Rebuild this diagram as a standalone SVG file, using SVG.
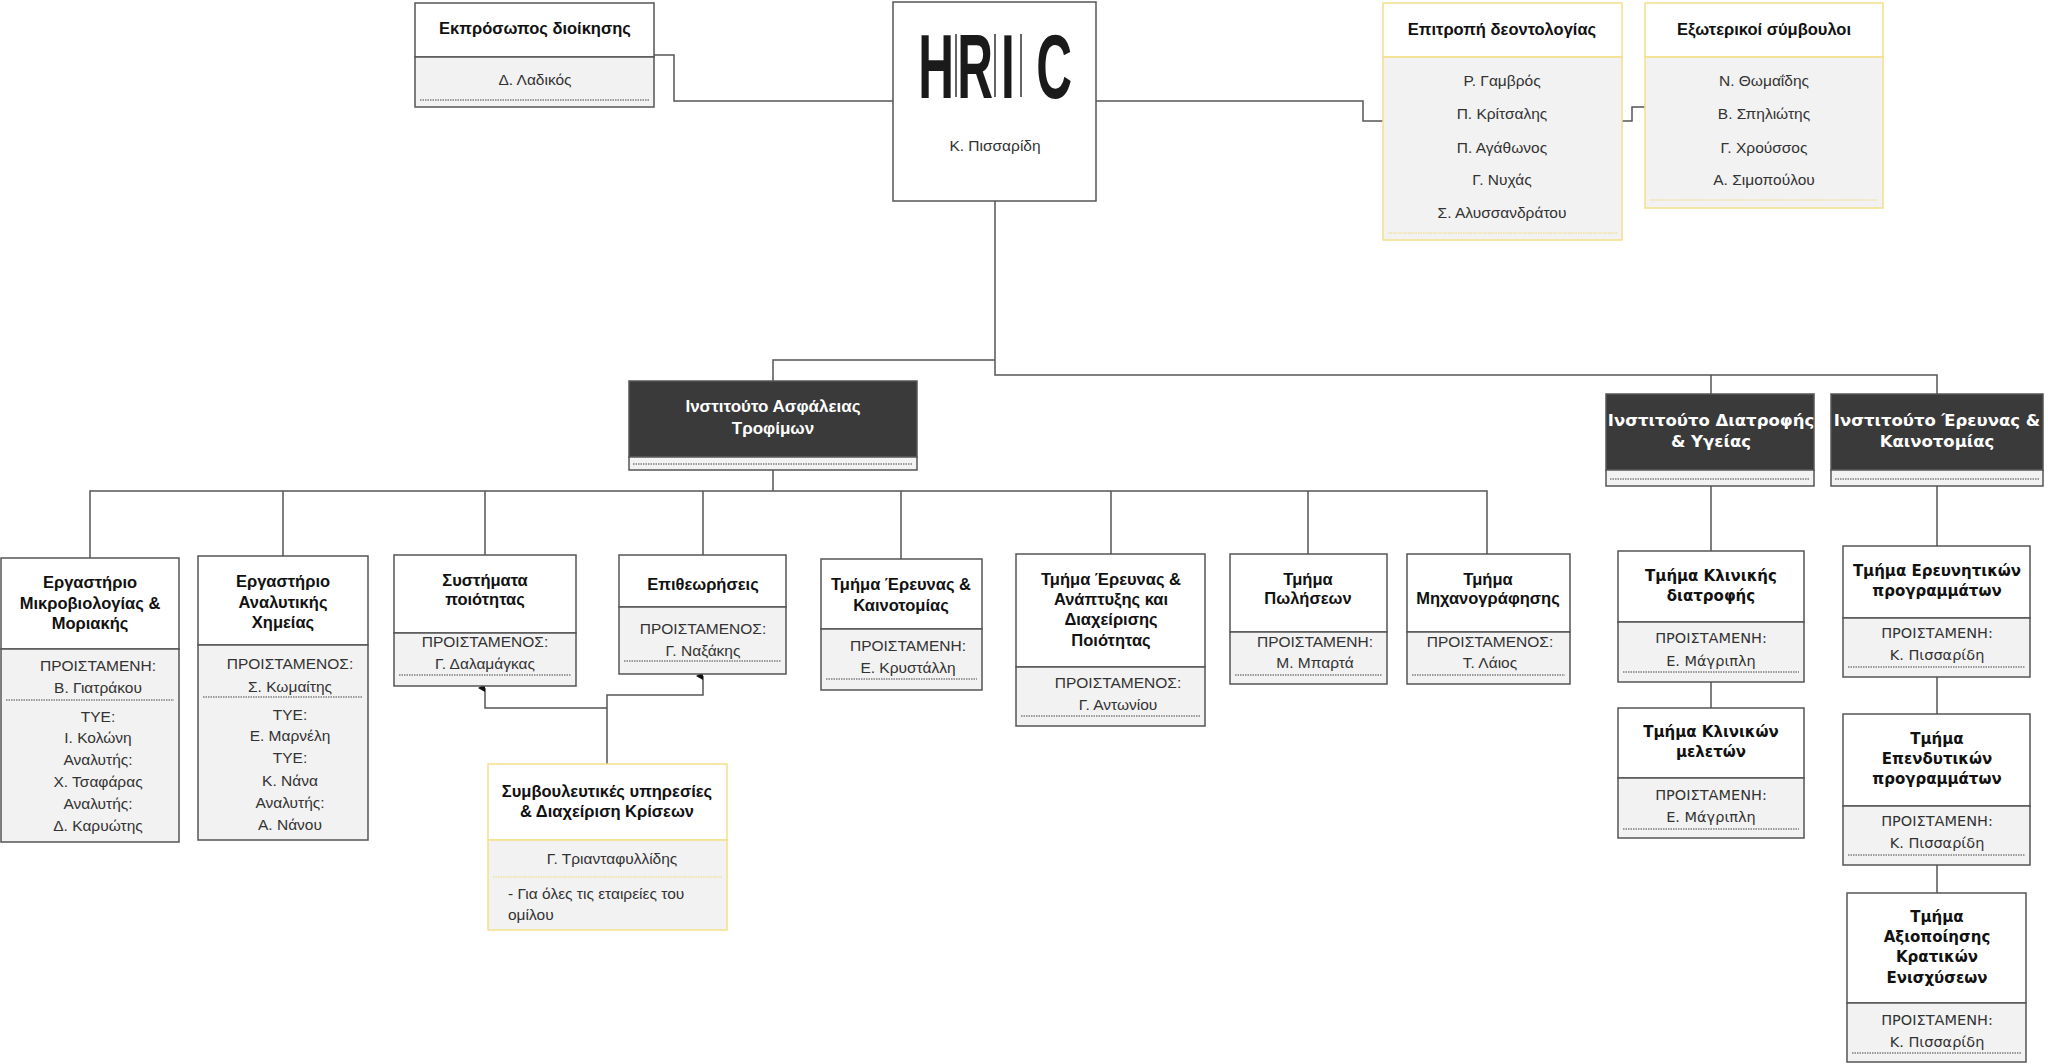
<svg xmlns="http://www.w3.org/2000/svg" width="2048" height="1064" viewBox="0 0 2048 1064">
<style>
.b{fill:#fff;stroke:#555;stroke-width:1.5}
.y{fill:#fff;stroke:#f3e08a;stroke-width:1.5}
.g{fill:#f2f2f2;stroke:#555;stroke-width:1.5}
.gy{fill:#f2f2f2;stroke:#f3e08a;stroke-width:1.5}
.dk{fill:#3a3a3a;stroke:#555;stroke-width:1.5}
.d{stroke:#444;stroke-width:1.2;stroke-dasharray:1.5 1}
.dy{stroke:#f0d870;stroke-width:1.2;stroke-dasharray:1.5 1}
.t{font-family:"Liberation Sans",Arial,sans-serif;font-weight:bold;font-size:16.5px;fill:#111;text-anchor:middle}
.w{font-family:"Liberation Sans",Arial,sans-serif;font-weight:bold;font-size:17px;fill:#fff;text-anchor:middle}
.s{font-family:"Liberation Sans",Arial,sans-serif;font-size:15.5px;fill:#333;text-anchor:middle}
.tv{font-family:"DejaVu Sans",Verdana,sans-serif;font-weight:bold;font-size:15px;fill:#111;text-anchor:middle}
.wv{font-family:"DejaVu Sans",Verdana,sans-serif;font-weight:bold;font-size:16.5px;fill:#fff;text-anchor:middle}
.sv{font-family:"DejaVu Sans",Verdana,sans-serif;font-size:14.5px;fill:#333;text-anchor:middle}
.c{fill:none;stroke:#555;stroke-width:1.5}
.L{font-family:"Liberation Sans",Arial,sans-serif;font-weight:bold;font-size:90px;fill:#1a1a1a;text-anchor:middle}
</style>
<defs><marker id="ar" markerWidth="8" markerHeight="8" refX="4" refY="7" orient="auto-start-reverse" markerUnits="userSpaceOnUse"><path d="M0,7 L4,0 L8,7 Z" fill="#111"/></marker></defs>
<rect width="2048" height="1064" fill="#fff"/>
<g id="connectors">
<path class="c" d="M654,55 H674 V101 H893"/>
<path class="c" d="M1096,101 H1363 V121 H1383"/>
<path class="c" d="M1622,121 H1632 V107 H1645"/>
<path class="c" d="M995,201 V375 H1937 V394 M1711,375 V394 M995,360 H773 V381"/>
<path class="c" d="M773,470 V491 M90,558 V491 H1487 V554 M283,491 V556 M485,491 V555 M703,491 V555 M901,491 V559 M1111,491 V554 M1308,491 V554"/>
<path class="c" d="M607,764 V695 H703 V676" marker-end="url(#ar)"/>
<path class="c" d="M607,708 H485 V688" marker-end="url(#ar)"/>
<path class="c" d="M1711,486 V551 M1711,682 V708 M1937,486 V546 M1937,677 V714 M1937,865 V893"/>
</g>
<g id="rep"><rect class="b" x="415" y="3" width="239" height="54"/><rect class="g" x="415" y="57" width="239" height="50"/><line class="d" x1="420" y1="100" x2="649" y2="100"/><text class="t" x="535" y="34">Εκπρόσωπος διοίκησης</text><text class="s" x="535" y="85">Δ. Λαδικός</text></g>
<g id="hric"><rect class="b" x="893" y="2" width="203" height="199"/>
<text class="L" transform="translate(936,98) scale(0.55,1)">H</text><text class="L" transform="translate(975,98) scale(0.55,1)">R</text><text class="L" transform="translate(1008,98) scale(0.55,1)">I</text><text class="L" transform="translate(1054,98) scale(0.55,1)">C</text>
<path d="M956,34 V97 M995,34 V97 M1021,34 V97" stroke="#333" stroke-width="1.5"/>
<text class="s" x="995" y="151">Κ. Πισσαρίδη</text></g>
<g id="ethics"><rect class="y" x="1383" y="3" width="239" height="54"/><rect class="gy" x="1383" y="57" width="239" height="183"/><line class="dy" x1="1388" y1="233" x2="1617" y2="233"/><text class="t" x="1502" y="35">Επιτροπή δεοντολογίας</text>
<text class="s" x="1502" y="86">Ρ. Γαμβρός</text><text class="s" x="1502" y="119">Π. Κρίτσαλης</text><text class="s" x="1502" y="153">Π. Αγάθωνος</text><text class="s" x="1502" y="185">Γ. Νυχάς</text><text class="s" x="1502" y="218">Σ. Αλυσσανδράτου</text></g>
<g id="external"><rect class="y" x="1645" y="3" width="238" height="54"/><rect class="gy" x="1645" y="57" width="238" height="151"/><line class="dy" x1="1650" y1="200" x2="1878" y2="200"/><text class="t" x="1764" y="35">Εξωτερικοί σύμβουλοι</text>
<text class="s" x="1764" y="86">Ν. Θωμαΐδης</text><text class="s" x="1764" y="119">Β. Σπηλιώτης</text><text class="s" x="1764" y="153">Γ. Χρούσσος</text><text class="s" x="1764" y="185">Α. Σιμοπούλου</text></g>
<g id="food"><rect class="dk" x="629" y="381" width="288" height="76"/><rect class="g" x="629" y="457" width="288" height="13"/><line class="d" x1="633" y1="464" x2="913" y2="464"/><text class="w" x="773" y="412">Ινστιτούτο Ασφάλειας</text><text class="w" x="773" y="434">Τροφίμων</text></g>
<g id="micro"><rect class="b" x="1" y="558" width="178" height="91"/><rect class="g" x="1" y="649" width="178" height="193"/><line class="d" x1="6" y1="700" x2="174" y2="700"/>
<text class="t" x="90" y="588">Εργαστήριο</text><text class="t" x="90" y="609">Μικροβιολογίας &amp;</text><text class="t" x="90" y="629">Μοριακής</text>
<text class="s" x="98" y="671">ΠΡΟΙΣΤΑΜΕΝΗ:</text><text class="s" x="98" y="693">Β. Γιατράκου</text><text class="s" x="98" y="722">ΤΥΕ:</text><text class="s" x="98" y="743">Ι. Κολώνη</text><text class="s" x="98" y="765">Αναλυτής:</text><text class="s" x="98" y="787">Χ. Τσαφάρας</text><text class="s" x="98" y="809">Αναλυτής:</text><text class="s" x="98" y="831">Δ. Καρυώτης</text></g>
<g id="chem"><rect class="b" x="198" y="556" width="170" height="89"/><rect class="g" x="198" y="645" width="170" height="195"/><line class="d" x1="203" y1="697" x2="363" y2="697"/>
<text class="t" x="283" y="587">Εργαστήριο</text><text class="t" x="283" y="608">Αναλυτικής</text><text class="t" x="283" y="628">Χημείας</text>
<text class="s" x="290" y="669">ΠΡΟΙΣΤΑΜΕΝΟΣ:</text><text class="s" x="290" y="692">Σ. Κωμαίτης</text><text class="s" x="290" y="720">ΤΥΕ:</text><text class="s" x="290" y="741">Ε. Μαρνέλη</text><text class="s" x="290" y="763">ΤΥΕ:</text><text class="s" x="290" y="786">Κ. Νάνα</text><text class="s" x="290" y="808">Αναλυτής:</text><text class="s" x="290" y="830">Α. Νάνου</text></g>
<g id="quality"><rect class="b" x="394" y="555" width="182" height="78"/><rect class="g" x="394" y="633" width="182" height="53"/><line class="d" x1="399" y1="675" x2="571" y2="675"/>
<text class="t" x="485" y="586">Συστήματα</text><text class="t" x="485" y="605">ποιότητας</text><text class="s" x="485" y="647">ΠΡΟΙΣΤΑΜΕΝΟΣ:</text><text class="s" x="485" y="669">Γ. Δαλαμάγκας</text></g>
<g id="inspect"><rect class="b" x="619" y="555" width="167" height="52"/><rect class="g" x="619" y="607" width="167" height="67"/><line class="d" x1="624" y1="661" x2="781" y2="661"/>
<text class="t" x="703" y="590">Επιθεωρήσεις</text><text class="s" x="703" y="634">ΠΡΟΙΣΤΑΜΕΝΟΣ:</text><text class="s" x="703" y="656">Γ. Ναξάκης</text></g>
<g id="rnd"><rect class="b" x="821" y="559" width="161" height="70"/><rect class="g" x="821" y="629" width="161" height="61"/><line class="d" x1="826" y1="679" x2="977" y2="679"/>
<text class="t" x="901" y="590">Τμήμα Έρευνας &amp;</text><text class="t" x="901" y="611">Καινοτομίας</text><text class="s" x="908" y="651">ΠΡΟΙΣΤΑΜΕΝΗ:</text><text class="s" x="908" y="673">Ε. Κρυστάλλη</text></g>
<g id="rdqm"><rect class="b" x="1016" y="554" width="189" height="113"/><rect class="g" x="1016" y="667" width="189" height="59"/><line class="d" x1="1021" y1="716" x2="1200" y2="716"/>
<text class="t" x="1111" y="585">Τμήμα Έρευνας &amp;</text><text class="t" x="1111" y="605">Ανάπτυξης και</text><text class="t" x="1111" y="625">Διαχείρισης</text><text class="t" x="1111" y="646">Ποιότητας</text>
<text class="s" x="1118" y="688">ΠΡΟΙΣΤΑΜΕΝΟΣ:</text><text class="s" x="1118" y="710">Γ. Αντωνίου</text></g>
<g id="sales"><rect class="b" x="1230" y="554" width="157" height="78"/><rect class="g" x="1230" y="632" width="157" height="52"/><line class="d" x1="1235" y1="675" x2="1382" y2="675"/>
<text class="t" x="1308" y="585">Τμήμα</text><text class="t" x="1308" y="604">Πωλήσεων</text><text class="s" x="1315" y="647">ΠΡΟΙΣΤΑΜΕΝΗ:</text><text class="s" x="1315" y="668">Μ. Μπαρτά</text></g>
<g id="it"><rect class="b" x="1407" y="554" width="163" height="78"/><rect class="g" x="1407" y="632" width="163" height="52"/><line class="d" x1="1412" y1="675" x2="1565" y2="675"/>
<text class="t" x="1488" y="585">Τμήμα</text><text class="t" x="1488" y="604">Μηχανογράφησης</text><text class="s" x="1490" y="647">ΠΡΟΙΣΤΑΜΕΝΟΣ:</text><text class="s" x="1490" y="668">Τ. Λάιος</text></g>
<g id="advisory"><rect class="y" x="488" y="764" width="239" height="76"/><rect class="gy" x="488" y="840" width="239" height="90"/><line class="dy" x1="493" y1="877" x2="722" y2="877"/>
<text class="t" x="607" y="797">Συμβουλευτικές υπηρεσίες</text><text class="t" x="607" y="817">&amp; Διαχείριση Κρίσεων</text><text class="s" x="612" y="864">Γ. Τριανταφυλλίδης</text>
<text class="s" x="508" y="899" style="text-anchor:start">- Για όλες τις εταιρείες του</text><text class="s" x="508" y="920" style="text-anchor:start">ομίλου</text></g>
<g id="nutrition"><rect class="dk" x="1606" y="394" width="208" height="76"/><rect class="g" x="1606" y="470" width="208" height="16"/><line class="d" x1="1610" y1="479" x2="1810" y2="479"/><text class="wv" x="1711" y="426">Ινστιτούτο Διατροφής</text><text class="wv" x="1711" y="447">&amp; Υγείας</text></g>
<g id="clin"><rect class="b" x="1618" y="551" width="186" height="71"/><rect class="g" x="1618" y="622" width="186" height="60"/><line class="d" x1="1623" y1="672" x2="1799" y2="672"/>
<text class="tv" x="1711" y="581">Τμήμα Κλινικής</text><text class="tv" x="1711" y="601">διατροφής</text><text class="sv" x="1711" y="643">ΠΡΟΙΣΤΑΜΕΝΗ:</text><text class="sv" x="1711" y="666">Ε. Μάγριπλη</text></g>
<g id="studies"><rect class="b" x="1618" y="708" width="186" height="70"/><rect class="g" x="1618" y="778" width="186" height="60"/><line class="d" x1="1623" y1="829" x2="1799" y2="829"/>
<text class="tv" x="1711" y="737">Τμήμα Κλινικών</text><text class="tv" x="1711" y="757">μελετών</text><text class="sv" x="1711" y="800">ΠΡΟΙΣΤΑΜΕΝΗ:</text><text class="sv" x="1711" y="822">Ε. Μάγριπλη</text></g>
<g id="research"><rect class="dk" x="1831" y="394" width="212" height="76"/><rect class="g" x="1831" y="470" width="212" height="16"/><line class="d" x1="1835" y1="479" x2="2039" y2="479"/><text class="wv" x="1937" y="426">Ινστιτούτο Έρευνας &amp;</text><text class="wv" x="1937" y="447">Καινοτομίας</text></g>
<g id="resprog"><rect class="b" x="1843" y="546" width="187" height="72"/><rect class="g" x="1843" y="618" width="187" height="59"/><line class="d" x1="1848" y1="667" x2="2025" y2="667"/>
<text class="tv" x="1937" y="576">Τμήμα Ερευνητικών</text><text class="tv" x="1937" y="596">προγραμμάτων</text><text class="sv" x="1937" y="638">ΠΡΟΙΣΤΑΜΕΝΗ:</text><text class="sv" x="1937" y="660">Κ. Πισσαρίδη</text></g>
<g id="invprog"><rect class="b" x="1843" y="714" width="187" height="92"/><rect class="g" x="1843" y="806" width="187" height="59"/><line class="d" x1="1848" y1="855" x2="2025" y2="855"/>
<text class="tv" x="1937" y="744">Τμήμα</text><text class="tv" x="1937" y="764">Επενδυτικών</text><text class="tv" x="1937" y="784">προγραμμάτων</text><text class="sv" x="1937" y="826">ΠΡΟΙΣΤΑΜΕΝΗ:</text><text class="sv" x="1937" y="848">Κ. Πισσαρίδη</text></g>
<g id="grants"><rect class="b" x="1847" y="893" width="179" height="110"/><rect class="g" x="1847" y="1003" width="179" height="59"/><line class="d" x1="1852" y1="1053" x2="2021" y2="1053"/>
<text class="tv" x="1937" y="922">Τμήμα</text><text class="tv" x="1937" y="942">Αξιοποίησης</text><text class="tv" x="1937" y="962">Κρατικών</text><text class="tv" x="1937" y="983">Ενισχύσεων</text><text class="sv" x="1937" y="1025">ΠΡΟΙΣΤΑΜΕΝΗ:</text><text class="sv" x="1937" y="1047">Κ. Πισσαρίδη</text></g>
</svg>
